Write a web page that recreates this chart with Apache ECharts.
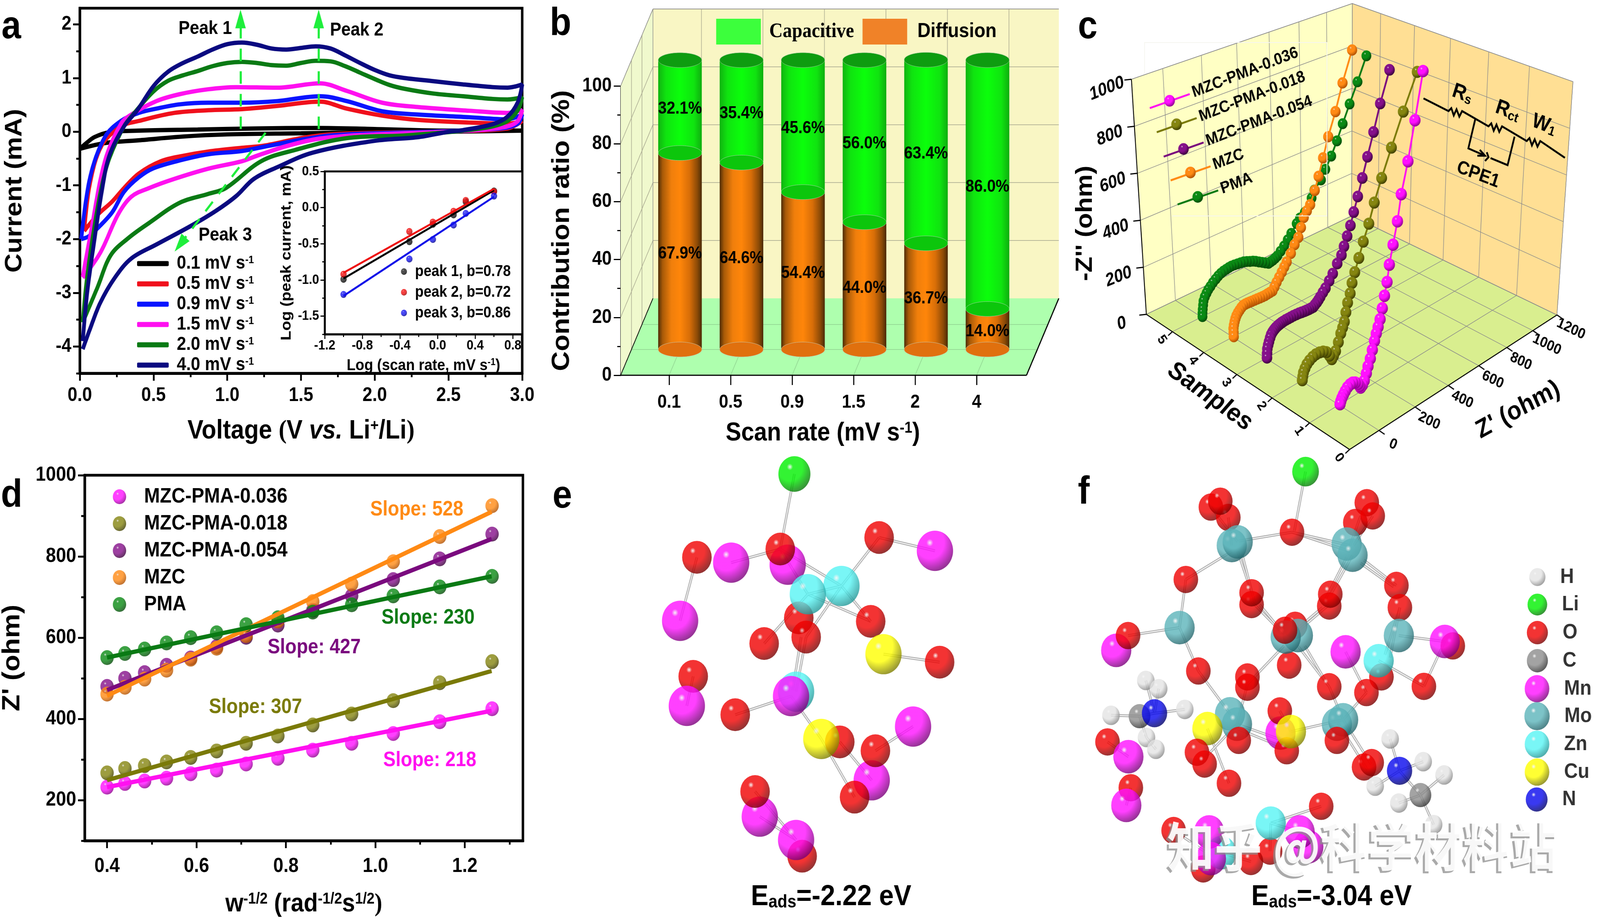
<![CDATA[<!DOCTYPE html>
<html><head><meta charset="utf-8">
<script src="https://cdn.jsdelivr.net/npm/echarts@6/dist/echarts.min.js"></script>
<style>html,body{margin:0;padding:0;background:#fff;overflow:hidden}#c{width:4553px;height:2356px;transform-origin:0 0}</style></head>
<body><div id="c"></div>
<script>
// ---------- DATA ----------
const cvLabels=['0.1 mV s-1','0.5 mV s-1','0.9 mV s-1','1.5 mV s-1','2.0 mV s-1','4.0 mV s-1'];
const cv01=[[0,-.32],[.05,-.2],[.1,-.1],[.2,-.01],[.4,.02],[.8,.04],[1.2,.06],[1.6,.07],[2,.05],[2.5,.02],[3,.02],[2.5,0],[2,-.01],[1.5,-.03],[1,-.05],[.7,-.09],[.4,-.16],[.2,-.2],[.1,-.25],[0,-.32]];
const cv05=[[.03,-1.85],[.07,-.95],[.15,-.25],[.28,.1],[.4,.2],[.64,.35],[.87,.4],[1.1,.42],[1.34,.48],[1.63,.56],[1.81,.43],[2.05,.3],[2.29,.22],[2.64,.17],[2.9,.15],[3,.2],[2.9,.06],[2.5,.01],[2,-.02],[1.7,-.05],[1.5,-.12],[1.25,-.26],[1.1,-.3],[.87,-.37],[.7,-.45],[.55,-.55],[.4,-.78],[.3,-1.05],[.22,-1.3],[.12,-1.55],[.03,-1.85]];
const cv09=[[.01,-2],[.07,-.85],[.17,-.1],[.28,.2],[.4,.35],[.52,.43],[.68,.51],[.87,.54],[1.1,.54],[1.34,.57],[1.63,.66],[1.81,.57],[2.05,.38],[2.29,.32],[2.64,.27],[2.9,.23],[3,.32],[2.97,.15],[2.85,.06],[2.5,.01],[2,-.03],[1.7,-.07],[1.5,-.15],[1.25,-.28],[1.1,-.36],[.87,-.42],[.7,-.52],[.5,-.68],[.4,-.85],[.3,-1.12],[.22,-1.5],[.12,-1.8],[.06,-1.95],[.01,-2]];
const cv15=[[.02,-2.7],[.07,-1.95],[.17,-.55],[.28,.15],[.35,.32],[.52,.57],[.68,.7],[.87,.79],[1.06,.83],[1.34,.82],[1.63,.9],[1.81,.76],[2.05,.54],[2.29,.46],[2.64,.39],[2.9,.35],[3,.4],[2.97,.2],[2.9,.1],[2.7,.03],[2.4,-.01],[2,-.05],[1.8,-.08],[1.6,-.14],[1.4,-.27],[1.2,-.45],[1.1,-.55],[.87,-.69],[.64,-.88],[.47,-1.05],[.35,-1.21],[.26,-1.54],[.14,-2.25],[.02,-2.72]];
const cv20=[[.02,-3.55],[.05,-2.7],[.1,-1.75],[.15,-1],[.2,-.5],[.3,.1],[.37,.35],[.5,.75],[.6,.95],[.7,1.05],[.8,1.13],[.9,1.22],[1,1.28],[1.1,1.3],[1.2,1.28],[1.3,1.24],[1.4,1.23],[1.5,1.28],[1.6,1.32],[1.7,1.31],[1.8,1.22],[1.9,1.1],[2,.98],[2.1,.87],[2.2,.8],[2.4,.71],[2.6,.66],[2.8,.61],[2.9,.6],[3,.64],[2.97,.4],[2.9,.2],[2.8,.1],[2.6,.02],[2.4,-.03],[2.2,-.07],[1.81,-.12],[1.46,-.34],[1.23,-.55],[.99,-1.05],[.87,-1.16],[.68,-1.32],[.47,-1.7],[.33,-1.98],[.21,-2.3],[.12,-2.9],[.02,-3.55]];
const cv40=[[.02,-3.9],[.05,-3],[.1,-2],[.15,-1.1],[.2,-.45],[.3,.1],[.39,.4],[.5,.85],[.6,1.12],[.7,1.28],[.8,1.4],[.9,1.53],[1,1.63],[1.1,1.66],[1.2,1.62],[1.3,1.55],[1.4,1.53],[1.5,1.56],[1.6,1.59],[1.7,1.55],[1.8,1.42],[1.9,1.28],[2,1.15],[2.1,1.05],[2.2,1],[2.4,.94],[2.6,.88],[2.8,.83],[2.9,.82],[2.95,.84],[3,.88],[2.97,.55],[2.9,.28],[2.8,.14],[2.6,.03],[2.5,0],[2.3,-.1],[2,-.17],[1.58,-.39],[1.34,-.66],[1.18,-.88],[1.06,-1.2],[.92,-1.48],[.75,-1.76],[.52,-2.1],[.35,-2.36],[.24,-2.71],[.14,-3.18],[.07,-3.67],[.02,-4.05]];
const cvColors=['#000000','#f0101c','#0a14ff','#ff10f0','#0a7a14','#0a0a80'];
const peakArrows=[[[1.09,.05],[1.09,2.1]],[[1.62,.05],[1.62,2.1]],[[1.26,-.02],[.68,-2.1]]];
const yMajorA=[-4,-3,-2,-1,0,1,2], yMinorA=[-4.5,-3.5,-2.5,-1.5,-.5,.5,1.5];
const insetX=[-1,-.3,-.05,.17,.3,.6];
const peak1=[-.99,-.47,-.23,-.1,.08,.23], peak2=[-.92,-.33,-.2,-.05,.1,.22], peak3=[-1.2,-.71,-.44,-.24,-.08,.16];
const fit1=[[-1,-.98],[.6,.24]], fit2=[[-1,-.9],[.6,.26]], fit3=[[-1,-1.22],[.6,.15]];
const peakNames=['peak 1, b=0.78','peak 2, b=0.72','peak 3, b=0.86'];
const yMajorIn=[-1.5,-1,-.5,0,.5], yMinorIn=[-1.75,-1.25,-.75,-.25,.25];

const scanRates=['0.1','0.5','0.9','1.5','2','4'];
const capacitive=[32.1,35.4,45.6,56.0,63.4,86.0];
const diffusion=[67.9,64.6,54.4,44.0,36.7,14.0];

const sampleNames=['MZC-PMA-0.036','MZC-PMA-0.018','MZC-PMA-0.054','MZC','PMA'];
const nyMagenta=[[6,0],[10,10],[16,20],[24,30],[34,40],[46,50],[60,55],[74,56],[88,50],[103,38],[112,26],[118,16],[128,22],[138,35],[150,60],[159,85],[172,111],[183,142],[195,174],[205,200],[215,223],[226,250],[238,290],[250,337],[264,388],[276,455],[296,530],[320,618],[340,723],[376,847],[413,1005],[455,1197]];
const nyOlive=[[5,0],[8,14],[12,29],[20,42],[31,55],[45,64],[62,71],[80,74],[100,73],[120,68],[138,58],[155,36],[168,16],[178,26],[190,40],[206,71],[220,102],[231,122],[241,142],[250,178],[260,214],[275,247],[286,287],[302,326],[326,377],[352,436],[385,500],[417,578],[461,667],[520,777],[592,908],[678,1053]];
const nyPurple=[[5,0],[6,18],[8,36],[13,50],[18,62],[24,75],[30,86],[37,93],[44,98],[51,102],[58,105],[67,108],[76,110],[86,112],[96,113],[110,114],[124,114],[138,114],[153,114],[169,113],[185,112],[200,110],[216,108],[229,107],[242,106],[255,106],[267,106],[278,112],[290,118],[300,125],[310,133],[326,146],[342,158],[365,181],[387,204],[415,237],[442,264],[458,296],[478,333],[499,372],[520,423],[546,482],[575,553],[608,635],[647,731],[690,843],[750,974]];
const nyOrange=[[5,0],[5,18],[5,35],[8,48],[12,60],[17,71],[23,81],[31,90],[40,97],[50,104],[60,109],[72,110],[84,110],[96,109],[108,108],[123,107],[138,106],[153,105],[168,104],[182,104],[196,105],[210,106],[225,107],[237,120],[250,135],[266,151],[282,167],[297,184],[312,200],[338,228],[361,258],[385,281],[402,318],[420,356],[440,378],[461,398],[491,451],[516,505],[546,577],[580,660],[628,757],[675,871],[739,1000]];
const nyGreen=[[5,0],[6,15],[8,30],[11,47],[14,63],[22,78],[32,90],[42,101],[54,110],[68,121],[84,130],[98,138],[113,144],[128,148],[143,150],[158,152],[173,153],[190,152],[208,150],[226,148],[244,146],[262,141],[280,135],[298,130],[315,123],[334,114],[354,105],[373,96],[392,88],[406,90],[420,92],[434,96],[448,101],[470,115],[493,130],[518,150],[542,171],[579,203],[602,221],[635,236],[683,286],[703,316],[750,348],[782,387],[825,435],[867,493],[910,560],[962,637],[1022,724],[1090,828]];
const zReTicks=[0,200,400,600,800,1000,1200];
const sampleTicks=[0,1,2,3,4,5];
const zImTicks=[0,200,400,600,800,1000];

const wFreq=[.4,.44,.484,.533,.587,.645,.711,.782,.86,.947,1.04,1.144,1.261];
const dMagenta=[232,241,247,254,265,274,289,303,323,340,364,393,425];
const dOlive=[267,278,285,294,305,321,340,358,385,412,445,489,541];
const dPurple=[480,500,514,532,550,578,601,631,667,703,743,794,855];
const dOrange=[461,478,498,520,547,574,605,641,689,732,787,849,925];
const dGreen=[551,561,572,587,600,612,632,649,663,681,703,725,751];
const fitMagenta=[[.4,232],[1.26,420]], fitOlive=[[.4,249],[1.26,518]], fitPurple=[[.4,471],[1.26,843]], fitOrange=[[.4,457],[1.26,910]], fitGreen=[[.4,551],[1.26,751]];
const yMajorD=[200,400,600,800,1000], yMinorD=[100,300,500,700,900];
const xMajorD=[.4,.6,.8,1,1.2], xMinorD=[.5,.7,.9,1.1,1.3];

const atomsE=[['Li',795,58],['O',505,340],['Mn',607,358],['Mn',775,365],['O',753,312],['O',1047,273],['Mn',1213,318],['Mn',455,555],['O',808,545],['Zn',935,437],['Zn',835,465],['O',705,632],['O',830,610],['O',1022,557],['Cu',1060,668],['O',1227,695],['O',494,743],['Mn',475,843],['Zn',800,795],['O',619,873],['Mn',785,810],['O',930,965],['Cu',875,955],['Mn',1148,913],['Mn',1025,1095],['O',1036,995],['O',974,1152],['Mn',692,1218],['O',678,1133],['O',818,1352],['Mn',800,1297]];
const bondsE=[[795,58,753,312],[753,312,607,358],[505,340,455,555],[753,312,835,465],[753,312,935,437],[935,437,1047,273],[1047,273,1213,318],[835,465,1022,557],[935,437,1022,557],[835,465,705,632],[935,437,830,610],[830,610,800,795],[815,610,790,790],[835,465,935,437],[1060,668,1227,695],[619,873,785,810],[785,810,875,955],[875,955,974,1152],[930,965,1025,1095],[1036,995,1148,913],[692,1218,800,1297],[678,1133,800,1297],[494,743,475,843]];
const atomsF=[['Li',722,50],['O',450,170],['O',500,205],['O',477,150],['O',898,155],['O',865,222],['O',915,200],['O',683,255],['Mo',510,300],['Mo',527,288],['Mo',840,295],['Mo',857,333],['O',378,415],['O',983,435],['O',993,510],['O',567,500],['O',567,460],['O',790,505],['O',793,465],['Mo',360,578],['Mn',178,655],['O',212,605],['Mo',990,605],['O',692,570],['O',675,705],['Mo',700,605],['Mo',665,610],['O',663,587],['O',1145,640],['Mn',1122,625],['Mn',837,660],['O',940,745],['Zn',932,690],['O',897,798],['O',1062,777],['O',414,725],['O',555,745],['O',555,780],['O',790,778],['Mo',505,870],['Mo',525,905],['Mo',812,905],['Mo',830,890],['Mn',650,935],['O',530,960],['O',668,995],['O',812,960],['O',648,860],['Cu',440,920],['Cu',680,930],['O',410,1000],['O',432,1040],['O',502,1105],['O',890,1050],['O',912,1035],['H',263,757],['H',300,785],['C',245,878],['H',163,875],['N',288,868],['H',375,855],['H',265,950],['H',292,990],['O',153,965],['Mn',213,1015],['O',220,1120],['Mn',207,1180],['H',965,955],['H',1060,1032],['H',922,1115],['N',992,1063],['H',1120,1077],['H',990,1172],['C',1052,1145],['H',1090,1245],['O',343,1265],['O',428,1395],['Zn',480,1340],['Mn',445,1270],['Mn',450,1360],['O',620,1335],['O',565,1370],['Mn',730,1320],['Mn',705,1270],['Zn',622,1240],['O',767,1183]];
const bondsF=[[722,50,690,250],[683,255,530,285],[683,255,850,320],[683,255,850,300],[510,300,500,205],[527,288,450,170],[510,320,378,415],[527,320,567,460],[540,330,575,490],[850,300,880,200],[860,300,915,200],[857,333,795,465],[840,340,780,480],[890,350,983,435],[880,360,975,440],[378,415,360,578],[360,578,212,605],[360,578,414,725],[414,725,505,870],[567,490,650,590],[590,500,660,600],[790,500,690,600],[770,510,700,580],[660,640,555,770],[700,640,790,778],[720,640,780,760],[555,770,525,905],[993,510,950,670],[993,510,965,680],[990,605,1122,625],[1122,625,1062,777],[932,690,1062,777],[837,660,897,798],[897,798,830,890],[790,778,830,890],[830,890,910,1040],[815,900,900,1060],[680,930,830,890],[525,905,680,970],[525,920,640,975],[440,920,502,1105],[525,905,440,1010],[648,860,680,930],[288,868,263,757],[288,868,300,785],[245,878,163,875],[288,868,375,855],[245,878,265,950],[265,950,292,990],[245,878,288,868],[992,1063,965,955],[992,1063,1060,1032],[992,1063,922,1115],[1052,1145,1120,1077],[1052,1145,990,1172],[1052,1145,1090,1245],[992,1063,1052,1145],[153,965,213,1015],[220,1120,207,1180],[343,1265,450,1350],[480,1340,565,1370],[622,1240,620,1335],[622,1240,767,1183],[622,1240,705,1270]];
const atomKey=[['H',1388,407],['Li',1388,500],['O',1388,595],['C',1388,690],['Mn',1387,785],['Mo',1387,878],['Zn',1387,973],['Cu',1387,1067],['N',1386,1160]];
const keySizes={H:46,Li:56,O:60,C:60,Mn:70,Mo:72,Zn:70,Cu:70,N:62};

// ---------- STYLE ----------
const FF='"Liberation Sans"';
const ball=(c,d,hi)=>({type:'radial',x:.36,y:.3,r:.72,colorStops:[{offset:0,color:hi||'#ffffff'},{offset:.13,color:c},{offset:.55,color:c},{offset:1,color:d}]});
const atomStyle={H:['#e4e4e4','#8a8a8a',25],Li:['#00f000','#067a06',38],O:['#f00000','#7a0000',35],C:['#8c8c8c','#333',31],Mn:['#ff10ff','#7c007c',43],Mo:['#5cb4ba','#24666c',43],Zn:['#58f4f4','#249a9a',43],Cu:['#ffff00','#808000',43],N:['#0808ee','#00006a',36]};
const sampleColors=[['#ff10ff','#900090'],['#858510','#404000'],['#85108a','#3c003c'],['#ff8a14','#b05000'],['#0a8a14','#044a08']];
const lineColors=['#ff10f0','#7a7a08','#7a0a7e','#ff8a14','#0a7a14'];
const axisFont=(s)=>({fontFamily:FF,fontWeight:'bold',fontSize:s,color:'#000'});
const LW=7;

// ---------- AXES ----------
const hide={show:false};
const rich=(s)=>({b:{fontFamily:FF,fontWeight:'bold',fontSize:s,color:'#000'},i:{fontFamily:FF,fontWeight:'bold',fontStyle:'italic',fontSize:s,color:'#000'},p:{fontFamily:'"Liberation Serif"',fontWeight:'bold',fontSize:s,color:'#000'},u:{fontFamily:FF,fontWeight:'bold',fontSize:Math.round(s*.6),color:'#000',verticalAlign:'top'}});
const valueAxis=(o)=>Object.assign({type:'value',splitLine:hide,axisLine:{show:false,onZero:false}},o);
const minorOverlay=(o,vals,len,w)=>valueAxis(Object.assign({},o,{axisLabel:hide,axisTick:{show:true,length:len,customValues:vals,lineStyle:{color:'#000',width:w}}}));

const xAxes=[
 valueAxis({gridIndex:0,position:'bottom',min:0,max:3,interval:.5,axisLine:{show:true,onZero:false,lineStyle:{color:'#000',width:LW}},axisTick:{show:true,length:19,lineStyle:{color:'#000',width:5}},minorTick:{show:true,splitNumber:2,length:10,lineStyle:{color:'#000',width:5}},axisLabel:Object.assign(axisFont(50),{margin:32,formatter:v=>v.toFixed(1)}),
   name:'{b|Voltage }{p|(}{b|V }{i|vs.}{b| Li}{u|+}{b|/Li}{p|)}',nameLocation:'middle',nameGap:114,nameTextStyle:{rich:rich(68)}}),
 valueAxis({gridIndex:1,position:'bottom',min:-1.2,max:.9,interval:.4,axisLine:{show:true,onZero:false,lineStyle:{color:'#000',width:5}},axisTick:{show:true,length:12,lineStyle:{color:'#000',width:3}},minorTick:{show:true,splitNumber:2,length:7,lineStyle:{color:'#000',width:3}},axisLabel:Object.assign(axisFont(35),{margin:12,formatter:v=>v.toFixed(1)}),
   name:'{b|Log (scan rate, mV s}{u|-1}{b|)}',nameLocation:'middle',nameGap:60,nameTextStyle:{rich:rich(41)}}),
 {type:'category',gridIndex:2,position:'bottom',data:scanRates,axisLine:hide,axisTick:{show:true,alignWithLabel:true,length:25,lineStyle:{color:'#000',width:3}},axisLabel:Object.assign(axisFont(48),{margin:46}),
   name:'{b|Scan rate (mV s}{u|-1}{b|)}',nameLocation:'middle',nameGap:116,nameTextStyle:{rich:rich(66)},splitLine:hide},
 valueAxis({gridIndex:3,min:-150,max:1200,show:false}),
 valueAxis({gridIndex:4,position:'bottom',min:.35,max:1.33,axisLine:{show:true,onZero:false,lineStyle:{color:'#000',width:LW}},axisTick:{show:true,length:19,customValues:xMajorD,lineStyle:{color:'#000',width:5}},axisLabel:Object.assign(axisFont(52),{margin:40,customValues:xMajorD,formatter:v=>v.toFixed(1)}),
   name:'{b|w}{u|-1/2}{b| (rad}{u|-1/2}{b|s}{u|1/2}{p|)}',nameLocation:'middle',nameGap:130,nameTextStyle:{rich:rich(66)}}),
 minorOverlay({gridIndex:4,position:'bottom',min:.35,max:1.33},xMinorD,10,5),
 valueAxis({gridIndex:5,min:0,max:1568,show:false}),
 valueAxis({gridIndex:6,min:0,max:1568,show:false})
];
const yAxes=[
 valueAxis({gridIndex:0,position:'left',min:-4.5,max:2.3,axisLine:{show:true,onZero:false,lineStyle:{color:'#000',width:LW}},axisTick:{show:true,length:19,customValues:yMajorA,lineStyle:{color:'#000',width:5}},axisLabel:Object.assign(axisFont(50),{margin:24,customValues:yMajorA}),
   name:'{b|Current (mA)}',nameLocation:'middle',nameGap:151,nameTextStyle:{rich:rich(68)}}),
 minorOverlay({gridIndex:0,position:'left',min:-4.5,max:2.3},yMinorA,10,5),
 valueAxis({gridIndex:1,position:'left',min:-1.75,max:.5,axisLine:{show:true,onZero:false,lineStyle:{color:'#000',width:5}},axisTick:{show:true,length:12,customValues:yMajorIn,lineStyle:{color:'#000',width:3}},axisLabel:Object.assign(axisFont(35),{margin:16,customValues:yMajorIn,formatter:v=>v.toFixed(1)}),
   name:'{b|Log (peak current, mA)}',nameLocation:'middle',nameGap:88,nameTextStyle:{rich:rich(41)}}),
 minorOverlay({gridIndex:1,position:'left',min:-1.75,max:.5},yMinorIn,7,3),
 valueAxis({gridIndex:2,position:'left',min:0,max:100,interval:20,offset:50,axisLine:{show:true,onZero:false,lineStyle:{color:'#000',width:3}},axisTick:{show:true,length:20,lineStyle:{color:'#000',width:3}},minorTick:{show:true,splitNumber:2,length:10,lineStyle:{color:'#000',width:3}},axisLabel:Object.assign(axisFont(50),{margin:26}),
   name:'{b|Contribution ratio (%)}',nameLocation:'middle',nameGap:132,nameTextStyle:{rich:rich(70)}}),
 valueAxis({gridIndex:3,min:0,max:5.88,show:false}),
 valueAxis({gridIndex:4,position:'left',min:100,max:1000,axisLine:{show:true,onZero:false,lineStyle:{color:'#000',width:LW}},axisTick:{show:true,length:19,customValues:yMajorD,lineStyle:{color:'#000',width:5}},axisLabel:Object.assign(axisFont(52),{margin:24,customValues:yMajorD,formatter:v=>String(v)}),
   name:'{b|Z\' (ohm)}',nameLocation:'middle',nameGap:170,nameTextStyle:{rich:rich(70)}}),
 minorOverlay({gridIndex:4,position:'left',min:100,max:1000},yMinorD,10,5),
 valueAxis({gridIndex:5,min:0,max:1568,inverse:true,show:false}),
 valueAxis({gridIndex:6,min:0,max:1568,inverse:true,show:false})
];
const G={a:{left:227,top:21,width:1259,height:935},inset:{left:924,top:439,width:562,height:417},b:{left:1816.5,top:220,width:1050,height:741},c:{left:3000,top:0,width:1000,height:1000},d:{left:230,top:1217,width:1258,height:936},e:{left:1500,top:1170,width:1500,height:1186},f:{left:3000,top:1170,width:1553,height:1186}};
const grids=[
 Object.assign({show:true,borderColor:'#000',borderWidth:LW},G.a),
 Object.assign({show:true,borderColor:'#000',borderWidth:5,backgroundColor:'#fff'},G.inset),
 G.b,G.c,
 Object.assign({show:true,borderColor:'#000',borderWidth:LW},G.d),
 G.e,G.f
];

// ---------- SERIES ----------
const series=[];
[cv01,cv05,cv09,cv15,cv20,cv40].forEach((d,i)=>{
  const s={type:'line',name:cvLabels[i],xAxisIndex:0,yAxisIndex:0,data:d,smooth:.35,symbol:'none',lineStyle:{color:cvColors[i],width:11},itemStyle:{color:cvColors[i]},z:3};
  if(i===5) s.markLine={silent:true,symbol:['none','triangle'],symbolSize:[30,48],label:hide,lineStyle:{color:'#1fee3c',width:6,type:[32,26]},data:peakArrows.map(p=>[{coord:p[0]},{coord:p[1]}])};
  series.push(s);
});
const insetCol=[['#222','#000'],['#f01010','#900'],['#1818f0','#008']];
[peak1,peak2,peak3].forEach((d,i)=>{
  series.push({type:'scatter',name:peakNames[i],xAxisIndex:1,yAxisIndex:2,data:insetX.map((x,j)=>[x,d[j]]),symbolSize:18,itemStyle:{color:ball(insetCol[i][0],insetCol[i][1])},z:4});
});
[fit1,fit2,fit3].forEach((d,i)=>{
  series.push({type:'line',name:'fit'+(i+1),xAxisIndex:1,yAxisIndex:2,data:d,symbol:'none',lineStyle:{color:['#000','#ee1010','#1010e8'][i],width:5},z:5});
});
const BD={dx:92,dy:-197,left:50.5,right:54.5,cx:31,cy:-66,rx:62,ry:19};
const frameB=(params,api)=>{
  const cs=params.coordSys; const xl=cs.x-BD.left,xr=cs.x+cs.width+BD.right;
  const y=v=>api.coord([0,v])[1]; const y0=y(0),y100=y(100);
  const ch=[];
  const poly=(pts,fill)=>ch.push({type:'polygon',shape:{points:pts},style:{fill,stroke:null}});
  const line=(a,b,c='#a4a48c',w=1.5)=>ch.push({type:'line',shape:{x1:a[0],y1:a[1],x2:b[0],y2:b[1]},style:{stroke:c,lineWidth:w}});
  poly([[xl,y0],[xl,y100],[xl+BD.dx,y100+BD.dy],[xl+BD.dx,y0+BD.dy]],'#f0f9cd');
  poly([[xl+BD.dx,y100+BD.dy],[xr+BD.dx,y100+BD.dy],[xr+BD.dx,y0+BD.dy],[xl+BD.dx,y0+BD.dy]],'#f9f6c4');
  poly([[xl,y0],[xl+BD.dx,y0+BD.dy],[xr+BD.dx,y0+BD.dy],[xr,y0]],'#aeffae');
  [20,40,60,80,100].forEach(v=>{const Y=y(v);
    line([xl,Y],[xl+BD.dx,Y+BD.dy]); line([xl+BD.dx,Y+BD.dy],[xr+BD.dx,Y+BD.dy]);});
  [.335,.66].forEach(f=>{ line([xl+BD.dx*f,y0+BD.dy*f],[xl+BD.dx*f,y100+BD.dy*f]); line([xl+BD.dx*f,y0+BD.dy*f],[xr+BD.dx*f,y0+BD.dy*f],'#8fd08f'); });
  scanRates.forEach((_,i)=>{const X=api.coord([i,0])[0];
    line([X,y0],[X+BD.dx,y0+BD.dy],'#8fd08f'); line([X+BD.dx,y0+BD.dy],[X+BD.dx,y100+BD.dy]);});
  line([xl,y0],[xr,y0],'#000',3); line([xr,y0],[xr+BD.dx,y0+BD.dy],'#000',3);
  line([xl,y0],[xl+BD.dx,y0+BD.dy],'#000',2); line([xl+BD.dx,y0+BD.dy],[xl+BD.dx,y100+BD.dy],'#888',1.5); line([xl,y100],[xl+BD.dx,y100+BD.dy],'#888',1.5); line([xl+BD.dx,y100+BD.dy],[xr+BD.dx,y100+BD.dy],'#888',1.5);
  return {type:'group',children:ch};
};
series.push({type:'custom',name:'box',xAxisIndex:2,yAxisIndex:4,data:[[0,0]],renderItem:frameB,silent:true,z:1});
const gradO={type:'linear',x:0,y:0,x2:1,y2:0,colorStops:[{offset:0,color:'#4e2c05'},{offset:.1,color:'#a85a08'},{offset:.3,color:'#f07f0c'},{offset:.5,color:'#ff860a'},{offset:.72,color:'#d86e08'},{offset:.9,color:'#8a4a07'},{offset:1,color:'#4a2a05'}]};
const gradG={type:'linear',x:0,y:0,x2:1,y2:0,colorStops:[{offset:0,color:'#10b410'},{offset:.18,color:'#10e410'},{offset:.5,color:'#0bff0b'},{offset:.82,color:'#10e410'},{offset:1,color:'#0fae0f'}]};
const cyl=(kind)=>(params,api)=>{
  const i=api.value(0),lo=api.value(1),hi=api.value(2);
  const p0=api.coord([i,lo]),p1=api.coord([i,hi]);
  const x=p0[0]+BD.cx,y0=p0[1]+BD.cy,y1=p1[1]+BD.cy;
  const ch=[{type:'rect',shape:{x:x-BD.rx,y:y1,width:BD.rx*2,height:y0-y1},style:{fill:kind==='d'?gradO:gradG}}];
  if(kind==='d'){
    ch.push({type:'ellipse',shape:{cx:x,cy:y0,rx:BD.rx,ry:BD.ry},style:{fill:'#e0700e',stroke:'#c9c0a0',lineWidth:1}});
  }else{
    ch.push({type:'ellipse',shape:{cx:x,cy:y0,rx:BD.rx,ry:BD.ry},style:{fill:'#0cc60c',stroke:'#9fd09f',lineWidth:1}});
    ch.push({type:'ellipse',shape:{cx:x,cy:y1,rx:BD.rx,ry:BD.ry},style:{fill:'#0e9c10',stroke:'#8fc48f',lineWidth:1}});
  }
  ch.push({type:'text',x:x,y:(y0+y1)/2+6,style:{text:(hi-lo).toFixed(1)+'%',font:'bold 44px '+FF,fill:'#000',textAlign:'center',textVerticalAlign:'middle'}});
  return {type:'group',children:ch};
};
series.push({type:'custom',name:'Diffusion',xAxisIndex:2,yAxisIndex:4,data:scanRates.map((_,i)=>[i,0,diffusion[i]]),encode:{x:0,y:2},renderItem:cyl('d'),itemStyle:{color:'#f08228'},z:2});
series.push({type:'custom',name:'Capacitive',xAxisIndex:2,yAxisIndex:4,data:scanRates.map((_,i)=>[i,diffusion[i],diffusion[i]+capacitive[i]]),encode:{x:0,y:2},renderItem:cyl('c'),itemStyle:{color:'#3cff3c'},z:3});

const CQ={F:[850,1530],R:[1447,1072],L:[265,1070],B:[856,735],VF:[0,-860],VR:[46,-794],VL:[-43,-800],VB:[2,-723]};
const toPx=(x,y)=>[3000+x/1.0116,y/1.329];
const project=(api,z,s,zi)=>{
  const p=api.coord([z,s]);
  const U=(p[0]-G.c.left)/G.c.width, V=1-(p[1]-G.c.top)/G.c.height;
  const zeta=(-150+U*1350)/1200, sv=V*5.88;
  const u=.142+1.095*zeta/(1+.276*zeta), v=.2036*sv/(1+.0335*sv);
  const b=(k)=>CQ.F[k]+u*(CQ.R[k]-CQ.F[k])+v*(CQ.L[k]-CQ.F[k])+u*v*(CQ.F[k]+CQ.B[k]-CQ.R[k]-CQ.L[k]);
  const h=(k)=>(1-u)*(1-v)*CQ.VF[k]+u*(1-v)*CQ.VR[k]+(1-u)*v*CQ.VL[k]+u*v*CQ.VB[k];
  return toPx(b(0)+zi/1000*h(0),b(1)+zi/1000*h(1));
};
const frameC=(params,api)=>{
  const P=(z,s,zi)=>project(api,z,s,zi);
  const ch=[];
  const zMin=-150,zMax=1200,sMax=5.88,imax=1000;
  const poly=(pts,fill)=>ch.push({type:'polygon',shape:{points:pts},style:{fill,stroke:'#888',lineWidth:1.5}});
  const line=(a,b,c='#8c8c8c',w=1.5)=>ch.push({type:'line',shape:{x1:a[0],y1:a[1],x2:b[0],y2:b[1]},style:{stroke:c,lineWidth:w}});
  const text=(p,t,size,rotDeg,style)=>ch.push({type:'text',x:p[0],y:p[1],rotation:rotDeg*Math.PI/180,style:{text:t,font:(style||'bold')+' '+size+'px '+FF,fill:'#000',textAlign:'center',textVerticalAlign:'middle'}});
  poly([P(zMin,sMax,0),P(zMin,sMax,imax),P(zMax,sMax,imax),P(zMax,sMax,0)],'#ffffc4');
  poly([P(zMax,sMax,0),P(zMax,sMax,imax),P(zMax,0,imax),P(zMax,0,0)],'#ffdf94');
  poly([P(zMin,0,0),P(zMin,sMax,0),P(zMax,sMax,0),P(zMax,0,0)],'#d9ee8f');
  zReTicks.forEach(z=>{ line(P(z,0,0),P(z,sMax,0)); line(P(z,sMax,0),P(z,sMax,imax)); });
  sampleTicks.forEach(s=>{ line(P(zMin,s,0),P(zMax,s,0)); line(P(zMax,s,0),P(zMax,s,imax)); });
  zImTicks.forEach(i=>{ line(P(zMin,sMax,i),P(zMax,sMax,i)); line(P(zMax,sMax,i),P(zMax,0,i)); });
  zImTicks.forEach(i=>{const p=P(zMin,sMax,i); line(p,[p[0]-20,p[1]+2],'#000',3); text([p[0]-70,p[1]+24],String(i),46,20,'italic bold');});
  sampleTicks.forEach(s=>{const p=P(zMin,s,0); line(p,[p[0]-12,p[1]+10],'#000',3); text([p[0]-30,p[1]+21],String(s),36,-55);});
  zReTicks.forEach(z=>{const p=P(z,0,0); line(p,[p[0]+16,p[1]+10],'#000',3); text([p[0]+40,p[1]+36],String(z),38,-24);});
  line(P(zMin,sMax,0),P(zMin,sMax,imax),'#000',2.5); line(P(zMin,0,0),P(zMin,sMax,0),'#000',2.5); line(P(zMin,0,0),P(zMax,0,0),'#000',2.5);
  return {type:'group',children:ch};
};
series.push({type:'custom',name:'box3d',xAxisIndex:3,yAxisIndex:5,data:[[0,0]],renderItem:frameC,silent:true,z:1});
const ballItem=(cIdx,lc)=>(params,api)=>{
  const i=params.dataIndexInside,z=api.value(0),s=api.value(1),im=api.value(2);
  const p=project(api,z,s,im); const ch=[];
  if(i<params.dataInsideLength-1){
    const q=project(api,api.value(0,i+1),api.value(1,i+1),api.value(2,i+1));
    ch.push({type:'line',shape:{x1:p[0],y1:p[1],x2:q[0],y2:q[1]},style:{stroke:lc,lineWidth:5}});
  }
  const r=14+Math.max(0,(5-s))*.5;
  ch.push({type:'circle',shape:{cx:p[0],cy:p[1],r},style:{fill:ball(sampleColors[cIdx][0],sampleColors[cIdx][1],'#e8e8e8')}});
  return {type:'group',children:ch};
};
[[nyGreen,5,4],[nyOrange,4,3],[nyPurple,3,2],[nyOlive,2,1],[nyMagenta,1,0]].forEach(([d,s,k])=>{
  series.push({type:'custom',name:sampleNames[k]+' EIS',xAxisIndex:3,yAxisIndex:5,data:d.map(p=>[p[0],s,p[1]]).reverse(),encode:{x:0,y:1},renderItem:ballItem(k,lineColors[k]),z:2+(5-s)*.1});
});

[dMagenta,dOlive,dPurple,dOrange,dGreen].forEach((d,i)=>{
  series.push({type:'scatter',name:sampleNames[i],xAxisIndex:4,yAxisIndex:6,data:wFreq.map((x,j)=>[x,d[j]]),symbolSize:38,itemStyle:{color:ball(sampleColors[i][0],sampleColors[i][1],'#e8e8e8')},z:2});
});
[fitMagenta,fitOlive,fitPurple,fitOrange,fitGreen].forEach((d,i)=>{
  series.push({type:'line',name:'fit '+sampleNames[i],xAxisIndex:4,yAxisIndex:6,data:d,symbol:'none',lineStyle:{color:lineColors[i],width:11},z:3});
});

const atomData=(arr,scale)=>arr.map(a=>{const st=atomStyle[a[0]];return {name:a[0],value:[a[1],a[2]],symbolSize:st[2]*2*(scale||1),itemStyle:{color:ball(st[0],st[1],'#f4f4f4')}};});
const bondItem=(params,api)=>{
  const a=api.coord([api.value(0),api.value(1)]),b=api.coord([api.value(2),api.value(3)]);
  return {type:'group',children:[
    {type:'line',shape:{x1:a[0],y1:a[1],x2:b[0],y2:b[1]},style:{stroke:'#a8a8a8',lineWidth:7}},
    {type:'line',shape:{x1:a[0],y1:a[1],x2:b[0],y2:b[1]},style:{stroke:'#f0f0f0',lineWidth:3}}]};
};
series.push({type:'custom',name:'bonds e',xAxisIndex:6,yAxisIndex:8,data:bondsE,renderItem:bondItem,encode:{x:0,y:1},z:1});
series.push({type:'scatter',name:'atoms e',xAxisIndex:6,yAxisIndex:8,data:atomData(atomsE,1.2),z:2});
series.push({type:'custom',name:'bonds f',xAxisIndex:7,yAxisIndex:9,data:bondsF,renderItem:bondItem,encode:{x:0,y:1},z:1});
series.push({type:'scatter',name:'atoms f',xAxisIndex:7,yAxisIndex:9,data:atomData(atomsF),z:2});
series.push({type:'scatter',name:'atom key',xAxisIndex:7,yAxisIndex:9,data:atomData(atomKey).map(a=>Object.assign(a,{symbolSize:keySizes[a.name]})),label:{show:true,position:'right',distance:42,formatter:'{b}',fontFamily:FF,fontWeight:'bold',fontSize:54,color:'#000'},z:2});

const legends=[
 {left:385,top:646,orient:'vertical',itemWidth:90,itemHeight:13,itemGap:4,icon:'roundRect',selectedMode:false,data:cvLabels,
  formatter:n=>'{t|'+n.replace(' s-1',' s')+'}{u|-1}',textStyle:{padding:[0,0,0,18],rich:{t:{fontFamily:FF,fontWeight:'bold',fontSize:48,lineHeight:46,color:'#000'},u:{fontFamily:FF,fontWeight:'bold',fontSize:28,lineHeight:46,color:'#000',verticalAlign:'top'}}}},
 {left:1136,top:668,orient:'vertical',itemWidth:17,itemHeight:17,itemGap:8,selectedMode:false,data:peakNames,textStyle:{padding:[0,0,0,18],fontFamily:FF,fontWeight:'bold',fontSize:40,lineHeight:45,color:'#000'}},
 {left:2033,top:43,itemWidth:127,itemHeight:66,itemGap:24,icon:'rect',selectedMode:false,data:[
   {name:'Capacitive',textStyle:{fontFamily:'"Liberation Serif"',fontWeight:'bold',fontSize:53,color:'#000',padding:[0,0,0,19]}},
   {name:'Diffusion',textStyle:{fontFamily:FF,fontWeight:'bold',fontSize:52,color:'#000',padding:[0,0,0,24]}}]},
 {left:316,top:1240,orient:'vertical',itemWidth:38,itemHeight:38,itemGap:15,selectedMode:false,data:sampleNames,textStyle:{padding:[0,0,0,46],fontFamily:FF,fontWeight:'bold',fontSize:54,lineHeight:38,color:'#000'}}
];

const gfx=[];
const T=(x,y,t,size,o={})=>gfx.push({type:'text',x,y,rotation:(o.rot||0)*Math.PI/180,z:50,style:{text:t,font:(o.st||'bold')+' '+size+'px '+(o.fam||FF),fill:o.c||'#000',textAlign:o.al||'center',textVerticalAlign:'middle'}});
T(32,70,'a',100);T(1595,62,'b',100);T(3095,70,'c',100);T(33,1270,'d',100);T(1600,1272,'e',100);T(3084,1262,'f',100);
T(584,74,'Peak 1',48);T(1015,78,'Peak 2',48);T(641,603,'Peak 3',48);
const sl=[['Slope: 528',1186,1305,'#ff8a14'],['Slope: 230',1218,1582,'#0a7a14'],['Slope: 427',894,1658,'#7a0a7e'],['Slope: 307',727,1811,'#7a7a08'],['Slope: 218',1223,1947,'#ff10f0']];
sl.forEach(s=>T(s[1],s[2],s[0],53,{c:s[3]}));
const capt=(x,y,num)=>gfx.push({type:'text',x,y,z:50,style:{text:'{e|E}{a|ads}{e|='+num+' eV}',rich:{e:{fontFamily:FF,fontWeight:'bold',fontSize:75,color:'#000'},a:{fontFamily:FF,fontWeight:'bold',fontSize:46,color:'#000',verticalAlign:'bottom'}},textAlign:'center',textVerticalAlign:'middle'}});
capt(2365,2297,'-2.22');capt(3789,2297,'-3.04');
T(3089,572,"-Z'' (ohm)",66,{rot:90});T(3443,1016,'Samples',66,{rot:-33,st:'italic bold'});T(4320,1050,"Z' (ohm)",66,{rot:26.5});
const zz=(x,y)=>toPx(x,y);
const gline=(pts,c='#000',w=5)=>gfx.push({type:'polyline',z:50,shape:{points:pts.map(p=>zz(p[0],p[1]))},style:{stroke:c,lineWidth:w,fill:null}});
gline([[260,250],[260,145],[785,145],[785,735],[340,735]],'#f6f6f0',2);
const legC=[[275,368,390,320,332,343],[295,450,410,402,352,423],[315,533,430,485,372,507],[335,614,450,566,392,587],[355,696,472,648,413,670]];
legC.forEach((l,i)=>{
  gline([[l[0],l[1]],[l[2],l[3]]],lineColors[i],5);
  const c=zz(l[4],l[5]);
  gfx.push({type:'circle',z:50,shape:{cx:c[0],cy:c[1],r:15},style:{fill:ball(sampleColors[i][0],sampleColors[i][1],'#e8e8e8')}});
  gfx.push({type:'text',x:zz(l[2]+8,0)[0],y:zz(0,l[3]-3)[1],rotation:19.3*Math.PI/180,z:50,style:{text:sampleNames[i],font:'bold 42px '+FF,fill:'#000',textAlign:'left',textVerticalAlign:'middle'}});
});
gline([[1063,335],[1135,378],[1143,368],[1150,393],[1158,372],[1166,397],[1174,378],[1250,430],[1258,420],[1265,445],[1273,424],[1281,449],[1289,430],[1360,480],[1368,470],[1375,495],[1383,474],[1391,499],[1399,480],[1470,537]]);
gline([[1212,405],[1192,505],[1240,530]]);gline([[1225,510],[1240,530],[1218,530]]);gline([[1245,518],[1250,535],[1240,548]]);gline([[1256,538],[1305,562],[1325,465]]);
const sub=(x,y,a,b)=>{const p=zz(x,y);gfx.push({type:'text',x:p[0],y:p[1],rotation:-19*Math.PI/180,z:50,style:{text:'{b|'+a+'}{u|'+b+'}',rich:{b:{fontFamily:FF,fontWeight:'bold',fontSize:54,color:'#000'},u:{fontFamily:FF,fontWeight:'bold',fontSize:34,color:'#000',verticalAlign:'bottom'}},textAlign:'center',textVerticalAlign:'middle'}});};
sub(1175,320,'R','s');sub(1305,378,'R','ct');sub(1410,425,'W','1');
{const p=zz(1220,595);T(p[0],p[1],'CPE1',48,{rot:-19});}
const wm=(x,y,fill,z)=>gfx.push({type:'text',x,y,z,style:{text:'知乎 @科学材料站',font:'bold 135px "Noto Sans CJK SC"',fill,textAlign:'center',textVerticalAlign:'middle'}});
wm(3871,2173,'rgba(140,140,140,0.75)',60);wm(3877,2168,'rgba(255,255,255,0.92)',61);

// The window may be narrower than the reference: keep the reference's layout and fit it to the window.
const host=document.getElementById('c');
host.style.transform='scale('+(innerWidth/4553)+','+(innerHeight/2356)+')';
const chart=echarts.init(host,null,{renderer:'canvas',width:4553,height:2356});
chart.setOption({animation:false,backgroundColor:'#fff',textStyle:{fontFamily:FF},grid:grids,xAxis:xAxes,yAxis:yAxes,legend:legends,series,graphic:{elements:gfx},tooltip:{show:false}});
</script></body></html>]]>
